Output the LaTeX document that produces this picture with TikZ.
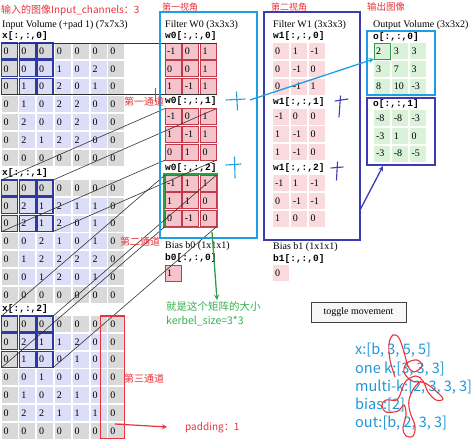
\documentclass[tikz,border=0pt]{standalone}
\usepackage{fontspec}
\setmainfont{Liberation Serif}
\setmonofont{Liberation Mono}
\newfontfamily\cjk{Noto Sans CJK SC}
\usetikzlibrary{positioning}
\definecolor{annored}{HTML}{E8333B}
\definecolor{padgray}{HTML}{D9D9D9}
\definecolor{inblue}{HTML}{DCDDF7}
\definecolor{rfblue}{HTML}{2E3A9E}
\definecolor{wpink}{HTML}{F5C4CA}
\definecolor{wred}{HTML}{C23B4A}
\definecolor{vpink}{HTML}{FADADD}
\definecolor{ogreen}{HTML}{D9F2D9}
\definecolor{boxcyan}{HTML}{1E9FE3}
\definecolor{boxblue}{HTML}{3B3BB3}
\definecolor{kgreen}{HTML}{2E9E48}
\definecolor{ktext}{HTML}{33B04F}
\definecolor{shapeblue}{HTML}{2196D6}
\tikzset{
  cellbase/.style={anchor=north west, minimum width=16pt, minimum height=16pt, inner sep=0pt, outer sep=0pt, text width=12pt, align=left, font=\fontsize{10}{11}\selectfont},
  incell/.style={cellbase, fill=\cellcol},
  wcell/.style={cellbase, fill=wpink, draw=wred, line width=0.7pt},
  vcell/.style={cellbase, fill=vpink},
  ocell/.style={cellbase, fill=ogreen},
  headtag/.style={anchor=west, inner sep=0pt, font=\fontsize{10}{12}\selectfont},
  gridtag/.style={anchor=west, inner sep=0pt, font=\ttfamily\bfseries\fontsize{9.5}{11}\selectfont},
  redtag/.style={anchor=west, inner sep=0pt, text=annored, font=\cjk\fontsize{10}{12}\selectfont},
  shapetag/.style={anchor=west, inner sep=0pt, text=shapeblue, font=\cjk\fontsize{14.5}{16}\selectfont},
  rfline/.style={black!80, line width=0.6pt},
  rfbox/.style={rfblue, line width=1.3pt},
  sumcross/.style={line width=1.1pt, line cap=round},
}
\newcommand{\numgrid}[5]{%
  \foreach \row [count=\j from 0] in {#5} {
    \foreach \v [count=\i from 0] in \row {
      \pgfmathtruncatemacro\pad{(\i==0)||(\i==6)||(\j==0)||(\j==6)}
      \ifnum\pad=1 \def\cellcol{padgray}\else\def\cellcol{inblue}\fi
      \node[#4] (#1-\i-\j) at (#2+\i*17.8, #3+\j*17.8) {\v};
    }
  }%
}
\begin{document}
\begin{tikzpicture}[x=1pt, y=-1pt, >=stealth]
\useasboundingbox (0,0) rectangle (474,447);

\node[redtag] (intitle) at (1,10) {输入的图像Input\_channels：3};
\node[redtag, font=\cjk\fontsize{9}{11}\selectfont] (view0) at (162,7) {第一视角};
\node[redtag, font=\cjk\fontsize{9}{11}\selectfont] (view1) at (271,7) {第二视角};
\node[redtag, font=\cjk\fontsize{9.5}{11}\selectfont] (outtitle) at (367,7) {输出图像};

\node[headtag] (inhead) at (2,25) {Input Volume (+pad 1) (7x7x3)};
\node[headtag] (w0head) at (165,25) {Filter W0 (3x3x3)};
\node[headtag] (w1head) at (273,25) {Filter W1 (3x3x3)};
\node[headtag] (ohead) at (373,25) {Output Volume (3x3x2)};

\node[gridtag] (xtag0) at (2,36.5) {x[:,:,0]};
\node[gridtag] (xtag1) at (2,173.5) {x[:,:,1]};
\node[gridtag] (xtag2) at (2,309.5) {x[:,:,2]};
\numgrid{xc0}{1.5}{43}{incell}{{0,0,0,0,0,0,0},{0,0,0,1,0,2,0},{0,1,0,2,0,1,0},{0,1,0,2,2,0,0},{0,2,0,0,2,0,0},{0,2,1,2,2,0,0},{0,0,0,0,0,0,0}}
\numgrid{xc1}{1.5}{180}{incell}{{0,0,0,0,0,0,0},{0,2,1,2,1,1,0},{0,2,1,2,0,1,0},{0,0,2,1,0,1,0},{0,1,2,2,2,2,0},{0,0,1,2,0,1,0},{0,0,0,0,0,0,0}}
\numgrid{xc2}{1.5}{316}{incell}{{0,0,0,0,0,0,0},{0,2,1,1,2,0,0},{0,1,0,0,1,0,0},{0,0,1,0,0,0,0},{0,1,0,2,1,0,0},{0,2,2,1,1,1,0},{0,0,0,0,0,0,0}}
\foreach \c in {0,1,2} {
  \foreach \i in {0,1,2} {
    \foreach \j in {0,1,2} {
      \draw[rfbox] (xc\c-\i-\j.north west) rectangle (xc\c-\i-\j.south east);
    }
  }
}

\node[gridtag] (w0tag0) at (165,36.5) {w0[:,:,0]};
\node[gridtag] (w0tag1) at (165,101) {w0[:,:,1]};
\node[gridtag] (w0tag2) at (165,168) {w0[:,:,2]};
\numgrid{w0c0}{165}{43}{wcell}{{-1,0,1},{0,0,1},{1,-1,1}}
\numgrid{w0c1}{165}{108.5}{wcell}{{-1,0,1},{1,-1,1},{0,1,0}}
\numgrid{w0c2}{165}{175}{wcell}{{-1,1,1},{1,1,0},{0,-1,0}}
\draw[kgreen, line width=1.5pt] ([shift={(-1,-1)}]w0c2-0-0.north west) rectangle ([shift={(1,1)}]w0c2-2-2.south east);
\node[headtag] (b0head) at (165,246) {Bias b0 (1x1x1)};
\node[gridtag] (b0tag) at (165,258.5) {b0[:,:,0]};
\numgrid{b0c}{165}{265}{wcell}{{1}}

\node[gridtag] (w1tag0) at (273,36.5) {w1[:,:,0]};
\node[gridtag] (w1tag1) at (273,102) {w1[:,:,1]};
\node[gridtag] (w1tag2) at (273,168) {w1[:,:,2]};
\numgrid{w1c0}{273}{43}{vcell}{{0,1,-1},{0,-1,0},{0,-1,1}}
\numgrid{w1c1}{273}{108.5}{vcell}{{-1,0,0},{1,-1,0},{1,-1,0}}
\numgrid{w1c2}{273}{175}{vcell}{{-1,1,-1},{0,-1,-1},{1,0,0}}
\node[headtag] (b1head) at (273,247) {Bias b1 (1x1x1)};
\node[gridtag] (b1tag) at (273,259) {b1[:,:,0]};
\numgrid{b1c}{273}{265}{vcell}{{0}}

\node[gridtag] (otag0) at (373,37) {o[:,:,0]};
\node[gridtag] (otag1) at (373,104) {o[:,:,1]};
\numgrid{oc0}{374}{43}{ocell}{{2,3,3},{3,7,3},{8,10,-3}}
\numgrid{oc1}{374}{110}{ocell}{{-8,-8,-3},{-3,1,0},{-3,-8,-5}}
\draw[kgreen, line width=1pt] (oc0-0-0.north west) rectangle (oc0-0-0.south east);

\foreach \c in {0,1,2} {
  \draw[rfline] (xc\c-0-0.north west) -- (w0c\c-0-0.north west);
  \draw[rfline] (xc\c-2-0.north east) -- (w0c\c-2-0.north east);
  \draw[rfline] (xc\c-0-2.south west) -- (w0c\c-0-2.south west);
  \draw[rfline] (xc\c-2-2.south east) -- (w0c\c-2-2.south east);
}

\draw[boxcyan, line width=1.3pt] (160,12) rectangle (257,238);
\draw[boxblue, line width=1.3pt] (264,12) rectangle (360,240);
\draw[boxcyan, line width=1.3pt] (367,31) rectangle (435,95);
\draw[boxblue, line width=1.3pt] (367,98) rectangle (435,165);

\draw[boxcyan, sumcross] (226,100) -- (245,99);
\draw[boxcyan, sumcross] (236.5,92) -- (237.5,110);
\draw[boxcyan, sumcross] (226,165) -- (241,164);
\draw[boxcyan, sumcross] (234.5,157) -- (235,178);
\draw[boxblue, sumcross] (335,101) -- (348,99);
\draw[boxblue, sumcross] (340.5,96) -- (339,117);
\draw[boxblue, sumcross] (331,168) -- (343,167);
\draw[boxblue, sumcross] (337.5,162) -- (336.5,180);

\coordinate (sum0) at (250,100);
\draw[boxcyan, line width=1.3pt, ->] (sum0) -- (oc0-0-0.south west);
\coordinate (sum1) at (360,210);
\coordinate (o1foot) at (383,166);
\draw[boxblue, line width=1.3pt, ->] (sum1) -- (o1foot);

\node[redtag] (ch0) at (124,102) {第一通道};
\draw[annored, line width=1pt] (155,88) -- (155,102);
\node[redtag] (ch1) at (120,242) {第二通道};
\node[redtag] (ch2) at (124,379) {第三通道};
\draw[annored, line width=1.2pt] ([xshift=-8pt]xc2-6-0.north west) rectangle (xc2-6-6.south east);
\node[redtag] (padlab) at (185,428) {padding：1};
\coordinate (padfrom) at (115,424);
\coordinate (padtip) at (167,427);
\draw[annored, line width=1.2pt, ->] (padfrom) -- (padtip);

\coordinate (kfrom) at (212,232);
\coordinate (kto) at (217,300);
\draw[kgreen, line width=1.3pt, ->] (kfrom) -- (kto);
\node[anchor=north west, inner sep=0pt, align=left, text=ktext, font=\cjk\fontsize{10.5}{14}\selectfont] (ksize) at (166,301) {就是这个矩阵的大小\\kerbel\_size=3*3};

\node[draw=black!75, line width=0.9pt, fill=gray!6, minimum width=95pt, minimum height=20pt, inner sep=0pt, font=\fontsize{10}{12}\selectfont] (toggle) at (358.5,312) {toggle movement};

\node[shapetag] (xshape) at (355,350) {x:[b, 3, 5, 5]};
\node[shapetag] (kshape) at (355,369) {one k:[3, 3, 3]};
\node[shapetag] (mkshape) at (355,387) {multi-k:[2, 3, 3, 3]};
\node[shapetag] (bshape) at (355,405) {bias:[2]};
\node[shapetag] (oshape) at (355,423) {out:[b, 2, 3, 3]};

\draw[annored, line width=1.1pt] plot[smooth, tension=0.6] coordinates {(395,377) (390,360) (389,344) (393,335) (399,338) (404,352) (408,366) (414,372) (422,366) (417,360) (407,363) (404,372) (412,381) (425,383) (437,392) (443,399) (436,400) (428,392) (423,381) (416,376) (406,381) (401,392) (397,400) (386,400) (382,405) (386,412) (398,411) (404,405) (406,415) (403,428) (406,436) (413,436) (415,426) (410,412) (409,400) (414,388) (421,381)};
\end{tikzpicture}
\end{document}
